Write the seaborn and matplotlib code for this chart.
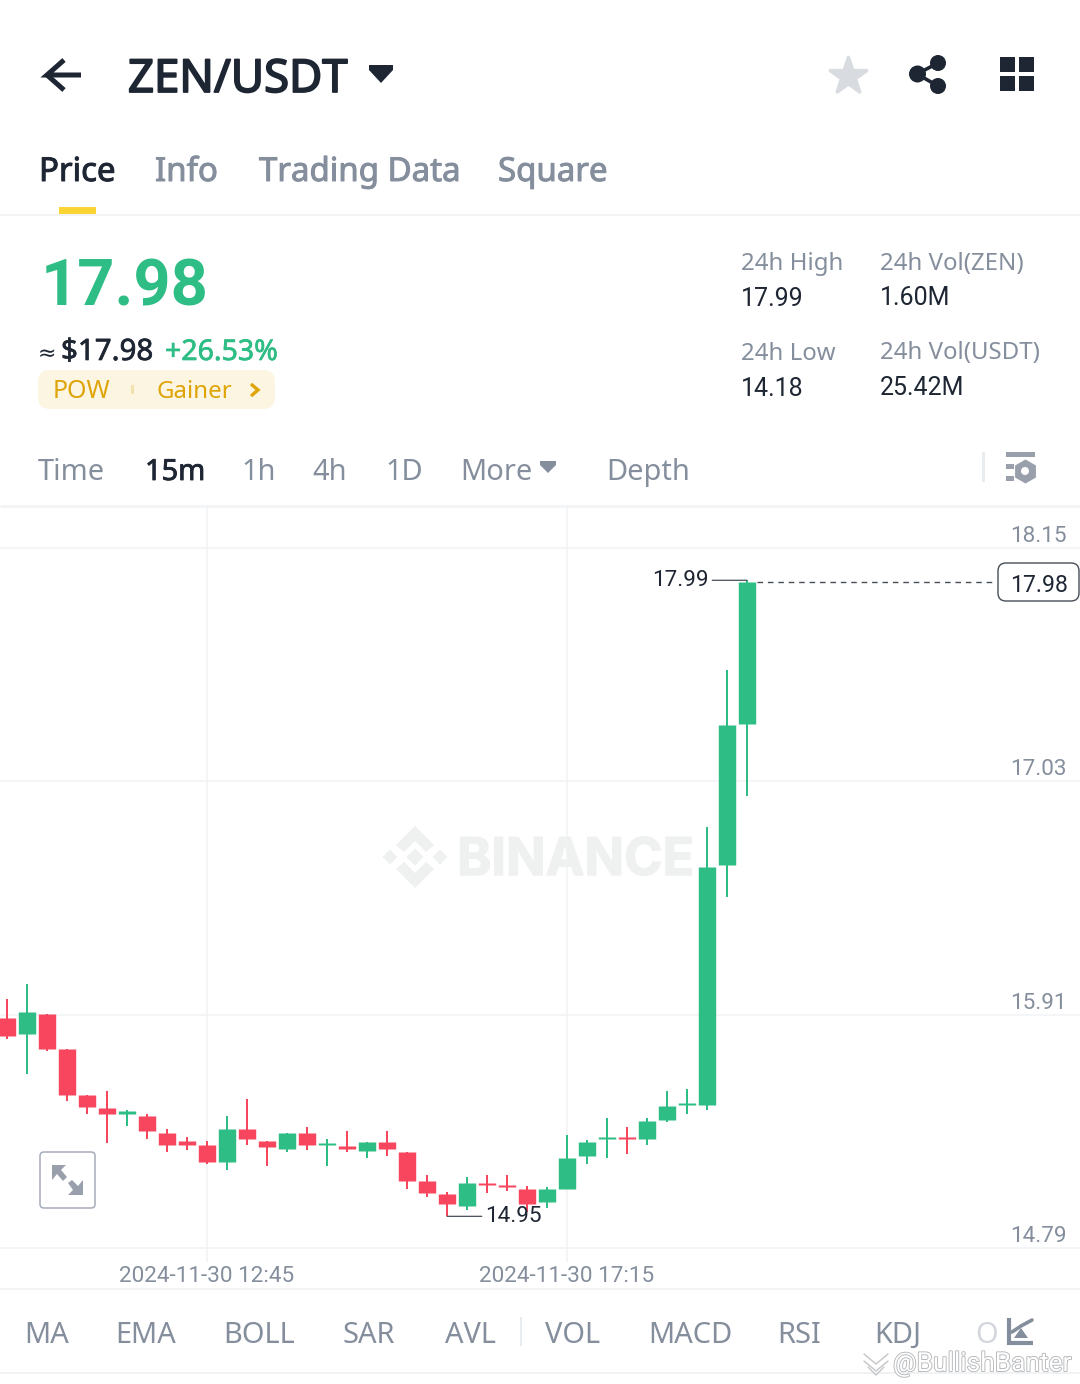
import matplotlib
matplotlib.use("Agg")
import matplotlib.pyplot as plt
import matplotlib.patheffects as pe
from matplotlib.patches import FancyBboxPatch, Polygon, Circle, Rectangle
from matplotlib.transforms import ScaledTranslation
import pandas as pd
import seaborn as sns

# ---------- data (prices) ----------
opens = [15.895,15.817,15.915,15.744,15.523,15.463,15.435,15.422,15.342,15.302,15.283,15.203,15.363,15.302,
         15.264,15.342,15.284,15.282,15.254,15.300,15.251,15.110,15.051,14.993,15.101,15.091,15.072,15.012,
         15.073,15.233,15.315,15.321,15.313,15.403,15.475,15.475,16.630,17.304]
closes = [15.808,15.924,15.745,15.524,15.465,15.435,15.446,15.353,15.284,15.284,15.203,15.363,15.313,15.273,
          15.342,15.284,15.294,15.263,15.300,15.264,15.113,15.053,15.003,15.101,15.091,15.081,15.003,15.072,
          15.221,15.300,15.324,15.312,15.401,15.473,15.485,16.617,17.302,17.985]
highs = [15.985,16.057,15.915,15.744,15.523,15.542,15.452,15.432,15.363,15.321,15.302,15.422,15.504,15.302,
         15.342,15.372,15.312,15.352,15.300,15.352,15.251,15.140,15.060,15.131,15.140,15.140,15.089,15.081,
         15.331,15.310,15.413,15.372,15.413,15.542,15.552,16.809,17.564,17.995]
lows = [15.793,15.625,15.736,15.494,15.435,15.294,15.374,15.313,15.252,15.262,15.193,15.163,15.283,15.182,
        15.252,15.262,15.182,15.252,15.223,15.233,15.073,15.033,14.942,14.972,15.053,15.062,14.964,14.982,
        15.073,15.193,15.223,15.243,15.283,15.393,15.435,15.452,16.476,16.960]
price_ticks = [18.15, 17.03, 15.91, 14.79]
price_labels = ["18.15", "17.03", "15.91", "14.79"]
time_ticks = [10, 28]
time_labels = ["2024-11-30 12:45", "2024-11-30 17:15"]
last_price = 17.985
high_mark = ("17.99", 37, 17.995)
low_mark = ("14.95", 22, 14.942)

tabs = [("Price", 39), ("Info", 155), ("Trading Data", 259), ("Square", 498)]
periods = [("Time", 38), ("15m", 145), ("1h", 241), ("4h", 312), ("1D", 385), ("More", 460), ("Depth", 606)]
indicators = [("MA", 24), ("EMA", 115), ("BOLL", 223), ("SAR", 342), ("AVL", 445), ("VOL", 545),
              ("MACD", 648), ("RSI", 777), ("KDJ", 874)]

GREEN, RED = "#2EBD85", "#F9465F"
DARK, GRAY = "#1E2633", "#848E9C"
FONT = "Noto Sans"
NUM = "Roboto"

sns.set_theme(style="white")
plt.rcParams["font.family"] = [FONT, "DejaVu Sans"]

W, H = 1080, 1384
fig = plt.figure(figsize=(W / 100, H / 100), dpi=100, facecolor="white")

# ---------- page furniture, pixel coordinates ----------
ui = fig.add_axes([0, 0, 1, 1], zorder=0)
ui.set_xlim(0, W)
ui.set_ylim(H, 0)
ui.axis("off")


def t(x, y, s, px, color=DARK, weight="normal", ha="left", family=FONT, stroke=0, **kw):
    txt = ui.text(x, y, s, fontsize=px * 0.72, color=color, fontweight=weight, ha=ha, va="baseline",
                  family=[family, "DejaVu Sans"], **kw)
    if stroke:
        txt.set_path_effects([pe.withStroke(linewidth=stroke, foreground=color)])
    return txt


def hline(y, x0=0, x1=W, c="#EEF0F2", lw=1.5):
    ui.plot([x0, x1], [y, y], color=c, lw=lw * 0.72, solid_capstyle="butt")


def poly(pts, c, **kw):
    ui.add_patch(Polygon(pts, closed=True, fc=c, ec=kw.pop("ec", "none"), **kw))


# header
ui.plot([81, 47, 64], [75, 75, 60], color=DARK, lw=3.6, solid_capstyle="butt", solid_joinstyle="miter")
ui.plot([47, 64], [75, 90], color=DARK, lw=3.6, solid_capstyle="butt")
t(128, 92, "ZEN/USDT", 45.5, stroke=1.3)
poly([(369, 65), (393, 65), (393, 70), (381, 83), (369, 70)], DARK)
ui.scatter([848], [75.5], marker="*", s=760, color="#D8DBE0", linewidths=2.5, edgecolors="#D8DBE0")
ui.plot([938, 917, 938], [63, 74, 86], color=DARK, lw=2.6)
for cx, cy, r in [(938, 63, 8), (917.5, 74, 8.5), (938, 86, 8)]:
    ui.add_patch(Circle((cx, cy), r, fc=DARK, ec="none"))
for x0, y0 in [(1000, 57), (1019, 57), (1000, 76), (1019, 76)]:
    ui.add_patch(Rectangle((x0, y0), 15, 15, fc=DARK, ec="none"))

# tabs
for i, (s, x) in enumerate(tabs):
    t(x, 181, s, 33, DARK if i == 0 else GRAY, stroke=0.7)
ui.add_patch(Rectangle((59, 207), 37, 7, fc="#FCD535", ec="none"))
hline(215)

# price block
t(41, 306, "17.98", 65, GREEN, weight="bold", family=NUM)
t(38, 360, "≈", 22, DARK)
t(61, 360, "$17.98", 29.5, DARK, stroke=0.5)
t(165, 360, "+26.53%", 28.5, GREEN, stroke=0.5)
ui.add_patch(FancyBboxPatch((38 + 12, 370 + 12), 237 - 24, 39 - 24, boxstyle="round,pad=12,rounding_size=12",
                            fc="#FCF5E1", ec="none"))
t(53, 398, "POW", 25, "#DFA408")
ui.add_patch(Rectangle((131, 385), 2.5, 9, fc="#F2E2AE", ec="none"))
t(157, 398, "Gainer", 24, "#DFA408")
ui.plot([251, 258, 251], [384, 390, 396], color="#DFA408", lw=2.4, solid_joinstyle="miter", solid_capstyle="butt")

for x, y0, y1, a, b in [(741, 270, 306, "24h High", "17.99"), (880, 270, 305, "24h Vol(ZEN)", "1.60M"),
                        (741, 360, 396, "24h Low", "14.18"), (880, 359, 395, "24h Vol(USDT)", "25.42M")]:
    t(x, y0, a, 24, GRAY)
    t(x, y1, b, 25, DARK, family=NUM)

# period row
for s, x in periods:
    col = DARK if s == "15m" else GRAY
    t(x, 480, s, 29, col, stroke=0.6 if s == "15m" else 0)
poly([(540, 461), (556, 461), (556, 465), (548, 473), (540, 465)], GRAY)
ui.add_patch(Rectangle((982, 452), 3, 30, fc="#E9ECEF", ec="none"))
ui.add_patch(Rectangle((1006, 452), 29, 4.5, fc="#99A0AC", ec="none"))
ui.add_patch(Rectangle((1006, 464), 7.5, 4.5, fc="#99A0AC", ec="none"))
ui.add_patch(Rectangle((1006, 476), 7.5, 4.5, fc="#99A0AC", ec="none"))
ui.scatter([1025], [471], marker="h", s=300, color="#99A0AC", linewidths=0)
ui.add_patch(Circle((1025, 471), 4, fc="white", ec="none"))
hline(505.5, c="#F3F4F5", lw=3)

# BINANCE watermark
WM = "#EFF1F1"
for cx, cy, r in [(415, 857, 8.5), (390, 857, 7.5), (440, 857, 7.5)]:
    poly([(cx - r, cy), (cx, cy - r), (cx + r, cy), (cx, cy + r)], WM)
poly([(415, 826), (434, 845), (426, 852), (415, 841), (404, 852), (396, 845)], WM)
poly([(415, 888), (434, 869), (426, 862), (415, 873), (404, 862), (396, 869)], WM)
t(457, 875, "BINANCE", 52, WM, weight="bold", family="Inter", stroke=1.0)

# expand button
ui.add_patch(FancyBboxPatch((44, 1156), 47, 48, boxstyle="round,pad=4,rounding_size=4", fc="white",
                            ec="#A4ABB8", lw=1.1))
poly([(52, 1165), (66, 1165), (61, 1170), (67, 1177), (63, 1181), (57, 1174), (52, 1180)], "#99A0AC")
poly([(83, 1195), (68, 1195), (73, 1190), (68, 1183), (72, 1180), (78, 1186), (83, 1180)], "#99A0AC")

# last-price box
ui.add_patch(FancyBboxPatch((1006, 571), 65, 22, boxstyle="round,pad=8,rounding_size=8", fc="white",
                            ec="#474D57", lw=1))
t(1039.5, 592, "17.98", 23, DARK, ha="center", family=NUM)

# bottom row
hline(1288.5)
for s, x in indicators:
    t(x, 1343, s, 29, GRAY)
ui.add_patch(Rectangle((520, 1317), 1.5, 29, fc="#E9ECEF", ec="none"))
t(975, 1343, "O", 29, "#D3D7DD")
ui.plot([1009, 1009, 1033], [1318, 1343, 1343], color=GRAY, lw=3, solid_joinstyle="miter", solid_capstyle="butt")
ui.plot([1012, 1021, 1032], [1332, 1326, 1320], color=GRAY, lw=2.6)
poly([(1014, 1338), (1028, 1338), (1021, 1328)], GRAY)
hline(1372.5, c="#EDEEF0", lw=1.5)

# ---------- candlesticks through seaborn ----------
PXU = 0.0048  # price per pixel of the scale
ax = fig.add_axes([0, 1 - 1262 / H, 1, (1262 - 507) / H], zorder=1)
ax.patch.set_alpha(0)

rows_body, rows_wick = [], []
for i, (o, c, h, l) in enumerate(zip(opens, closes, highs, lows)):
    d = "up" if c >= o else "down"
    rows_wick += [dict(candle=i, pos=i, price=h, dir=d), dict(candle=i, pos=i, price=l, dir=d)]
    rows_body += [dict(candle=i, pos=i, price=o, dir=d), dict(candle=i, pos=i, price=c, dir=d)]
palette = {"up": GREEN, "down": RED}
for rows, width in [(rows_wick, 2.0), (rows_body, 17.4)]:
    sns.lineplot(data=pd.DataFrame(rows), x="pos", y="price", hue="dir", units="candle", estimator=None,
                 sort=False, palette=palette, linewidth=width * 0.72, solid_capstyle="butt", legend=False, ax=ax)

ax.set_xlim(-0.35, 53.65)
ax.set_ylim(14.79 - 14 * PXU, 18.15 + 41 * PXU)
ax.set_xlabel("")
ax.set_ylabel("")
ax.set_xticks(time_ticks, time_labels)
ax.set_yticks(price_ticks, price_labels)
ax.grid(True, color="#F1F2F4", lw=1.5 * 0.72)
ax.set_axisbelow(True)
for sp in ax.spines.values():
    sp.set_visible(False)
ax.tick_params(axis="both", length=0)
ax.tick_params(axis="x", pad=3, labelsize=22.5 * 0.72, labelcolor=GRAY)
ax.tick_params(axis="y", left=False, labelleft=False, right=False, labelright=True, pad=-9.5,
               labelsize=22.5 * 0.72, labelcolor=GRAY)
lift = ScaledTranslation(0, 1 / 100, fig.dpi_scale_trans)
for lab in ax.get_yticklabels():
    lab.set_ha("right")
    lab.set_va("bottom")
    lab.set_family([NUM, "DejaVu Sans"])
    lab.set_transform(lab.get_transform() + lift)
for lab in ax.get_xticklabels():
    lab.set_family([NUM, "DejaVu Sans"])

# last price guide and extreme labels
ax.plot([37.5, 49.25], [last_price, last_price], color="#474D57", lw=1, dashes=(4, 3.5), zorder=1)
for (s, xi, yv), tx, anc in [(high_mark, -38, "right"), (low_mark, 38, "left")]:
    ax.annotate(s, xy=(xi, yv), xytext=(tx, 0), textcoords="offset pixels", ha=anc, va="center",
                fontsize=22.5 * 0.72, color=DARK, family=[NUM, "DejaVu Sans"],
                arrowprops=dict(arrowstyle="-", color="#474D57", lw=0.9, shrinkA=0, shrinkB=0))

# screenshot credit on top
ov = fig.add_axes([0, 0, 1, 1], zorder=2)
ov.set_xlim(0, W)
ov.set_ylim(H, 0)
ov.axis("off")
ov.patch.set_alpha(0)
ov.text(893, 1371, "@BullishBanter", fontsize=26.3 * 0.72, color="white", va="baseline",
        family=[NUM, "DejaVu Sans"], path_effects=[pe.withStroke(linewidth=1.3, foreground="#B5B7BA")])
for dy in (0, 7):
    ov.plot([864, 876, 888], [1354 + dy, 1364 + dy, 1354 + dy], color="#C4C6C8", lw=1)
ov.plot([868, 876, 884], [1367, 1375, 1367], color="#C4C6C8", lw=1)

fig.savefig("out.png", dpi=100, facecolor="white")
